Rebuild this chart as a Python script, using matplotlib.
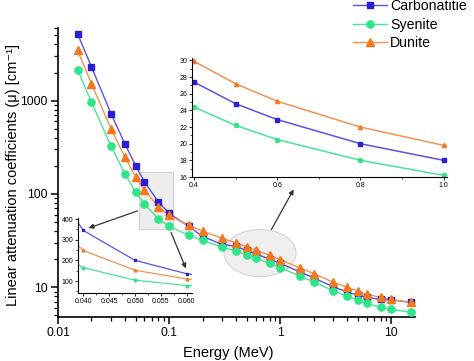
import matplotlib
matplotlib.use("Agg")
import matplotlib.pyplot as plt
from matplotlib.patches import Ellipse, Rectangle, FancyArrowPatch
from matplotlib.lines import Line2D
from matplotlib.ticker import MultipleLocator

plt.rcParams['font.family'] = ['Liberation Sans', 'DejaVu Sans']

energy = [0.015, 0.02, 0.03, 0.04, 0.05, 0.06, 0.08, 0.1, 0.15, 0.2, 0.3, 0.4, 0.5,
          0.6, 0.8, 1, 1.5, 2, 3, 4, 5, 6, 8, 10, 15]
carbonatite = [5200, 2300, 725, 345, 200, 135, 82, 62, 45, 35, 28.8, 27.4, 24.8,
               22.9, 20.0, 18.0, 14.6, 12.6, 10.1, 8.9, 8.2, 7.8, 7.4, 7.3, 6.9]
syenite = [2150, 960, 325, 165, 104, 78, 54, 45, 36, 31.8, 27.0, 24.4, 22.2,
           20.5, 18.0, 16.2, 13.2, 11.4, 9.2, 8.0, 7.3, 6.7, 6.1, 5.8, 5.4]
dunite = [3450, 1520, 500, 248, 152, 110, 73, 59, 46, 40, 33.5, 29.9, 27.2,
          25.1, 22.0, 19.8, 16.1, 14.0, 11.3, 10.0, 9.1, 8.4, 7.8, 7.4, 6.9]
labels = ["Carbonatitie", "Syenite", "Dunite"]

inset1_xticks = [0.040, 0.045, 0.050, 0.055, 0.060]
inset1_yticks = [100, 200, 300, 400]
inset2_xticks = [0.4, 0.6, 0.8, 1.0]
inset2_yticks = [16, 18, 20, 22, 24, 26, 28, 30]

W, H = 474, 361
fig = plt.figure(figsize=(W / 100, H / 100), dpi=100)

def fx(x, y):
    return (x / W, 1 - y / H)

def rect(l, t, r, b):
    return [l / W, 1 - b / H, (r - l) / W, (b - t) / H]

blue_m, blue_l = '#2b1fd4', '#5a52e6'
green_m, green_l = '#2ee689', '#49e39a'
orange_m, orange_l = '#f5781c', '#f39350'

series = [
    (carbonatite, blue_m, blue_l, 's', 4.6),
    (syenite, green_m, green_l, 'o', 5.2),
    (dunite, orange_m, orange_l, '^', 5.6),
]

ax = fig.add_axes(rect(58, 28, 415, 317))
ax.add_patch(Rectangle((0.0535, 41.7), 0.108 - 0.0535, 170 - 41.7,
                       facecolor='#eeeeee', edgecolor='#d4d4d4', lw=0.8, zorder=0))
ell = Ellipse(fx(260, 253), 72 / W, 47 / H, transform=fig.transFigure,
              facecolor='#efefef', edgecolor='#d4d4d4', lw=0.8, zorder=0)
fig.add_artist(ell)
ax.set_facecolor('none')

handles = []
for vals, mc, lc, mk, ms in series:
    ax.plot(energy, vals, color=lc, lw=1.0, zorder=2)
    ax.plot(energy, vals, ls='none', marker=mk, ms=ms, color=mc, mec=mc, zorder=3)
    handles.append(Line2D([], [], color=lc, lw=1.0, marker=mk, ms=ms, mfc=mc, mec=mc))

ax.set_xscale('log')
ax.set_yscale('log')
ax.set_xlim(0.01, 16.3)
ax.set_ylim(4.8, 6000)
ax.spines['top'].set_visible(False)
ax.spines['right'].set_visible(False)
for s in ['left', 'bottom']:
    ax.spines[s].set_linewidth(1.2)
ax.set_xticks([0.01, 0.1, 1, 10])
ax.set_xticklabels(['0.01', '0.1', '1', '10'])
ax.set_yticks([10, 100, 1000])
ax.set_yticklabels(['10', '100', '1000'])
ax.tick_params(which='major', direction='out', length=5, width=1.1, labelsize=8.7, pad=2.5)
ax.tick_params(which='minor', direction='out', length=3, width=0.9)
ax.set_xlabel('Energy (MeV)', fontsize=10.5)
ax.xaxis.set_label_coords((228 - 58) / 357, (317 - 360) / 289)
ax.xaxis.label.set_va('bottom')
ax.set_ylabel('Linear attenuation coefficients (\u03bc) [cm\u207b\u00b9]', fontsize=10.5)
ax.yaxis.set_label_coords((20 - 58) / 357, (317 - 175) / 289)

fig.legend(handles, labels, loc='upper left', bbox_to_anchor=fx(353, -1),
           frameon=False, fontsize=10.2, handlelength=2.4, handletextpad=0.2,
           labelspacing=0.32, borderpad=0, borderaxespad=0)

# inset 1
ax1 = fig.add_axes(rect(78, 218, 192, 293))
ax1.set_facecolor('none')
for vals, mc, lc, mk, ms in series:
    ax1.plot(energy, vals, color=lc, lw=0.9, marker=mk, ms=2, mfc=mc, mec=mc)
ax1.set_xlim(0.039, 0.061)
ax1.set_ylim(42, 405)
ax1.spines['top'].set_visible(False)
ax1.spines['right'].set_visible(False)
ax1.set_xticks(inset1_xticks)
ax1.set_xticklabels(['%.3f' % v for v in inset1_xticks])
ax1.set_yticks(inset1_yticks)
ax1.xaxis.set_minor_locator(MultipleLocator(0.0025))
ax1.yaxis.set_minor_locator(MultipleLocator(50))
ax1.tick_params(which='major', direction='out', length=2, width=0.6, labelsize=5, pad=1.5)
ax1.tick_params(which='minor', direction='out', length=1.2, width=0.5)
for s in ['left', 'bottom']:
    ax1.spines[s].set_linewidth(0.8)

# inset 2
ax2 = fig.add_axes(rect(192, 58, 447, 177))
ax2.set_facecolor('none')
for vals, mc, lc, mk, ms in series:
    ax2.plot(energy, vals, color=lc, lw=1.1, marker=mk, ms=3, mfc=mc, mec=mc)
ax2.set_xlim(0.395, 1.008)
ax2.set_ylim(16, 30.3)
ax2.spines['top'].set_visible(False)
ax2.spines['right'].set_visible(False)
ax2.set_xticks(inset2_xticks)
ax2.set_xticklabels(['%.1f' % v for v in inset2_xticks])
ax2.set_yticks(inset2_yticks)
ax2.xaxis.set_minor_locator(MultipleLocator(0.1))
ax2.yaxis.set_minor_locator(MultipleLocator(1))
ax2.tick_params(which='major', direction='out', length=2, width=0.6, labelsize=5, pad=1.5)
ax2.tick_params(which='minor', direction='out', length=1.2, width=0.5)
for s in ['left', 'bottom']:
    ax2.spines[s].set_linewidth(0.8)

for (x0, y0), (x1, y1) in [((140, 210), (86, 229)), ((170, 230), (187, 271)),
                           ((270, 232), (295, 187))]:
    arr = FancyArrowPatch(fx(x0, y0), fx(x1, y1), transform=fig.transFigure,
                          arrowstyle='-|>', mutation_scale=7, color='#333333', lw=0.9)
    fig.add_artist(arr)

fig.savefig('out.png', dpi=100)
